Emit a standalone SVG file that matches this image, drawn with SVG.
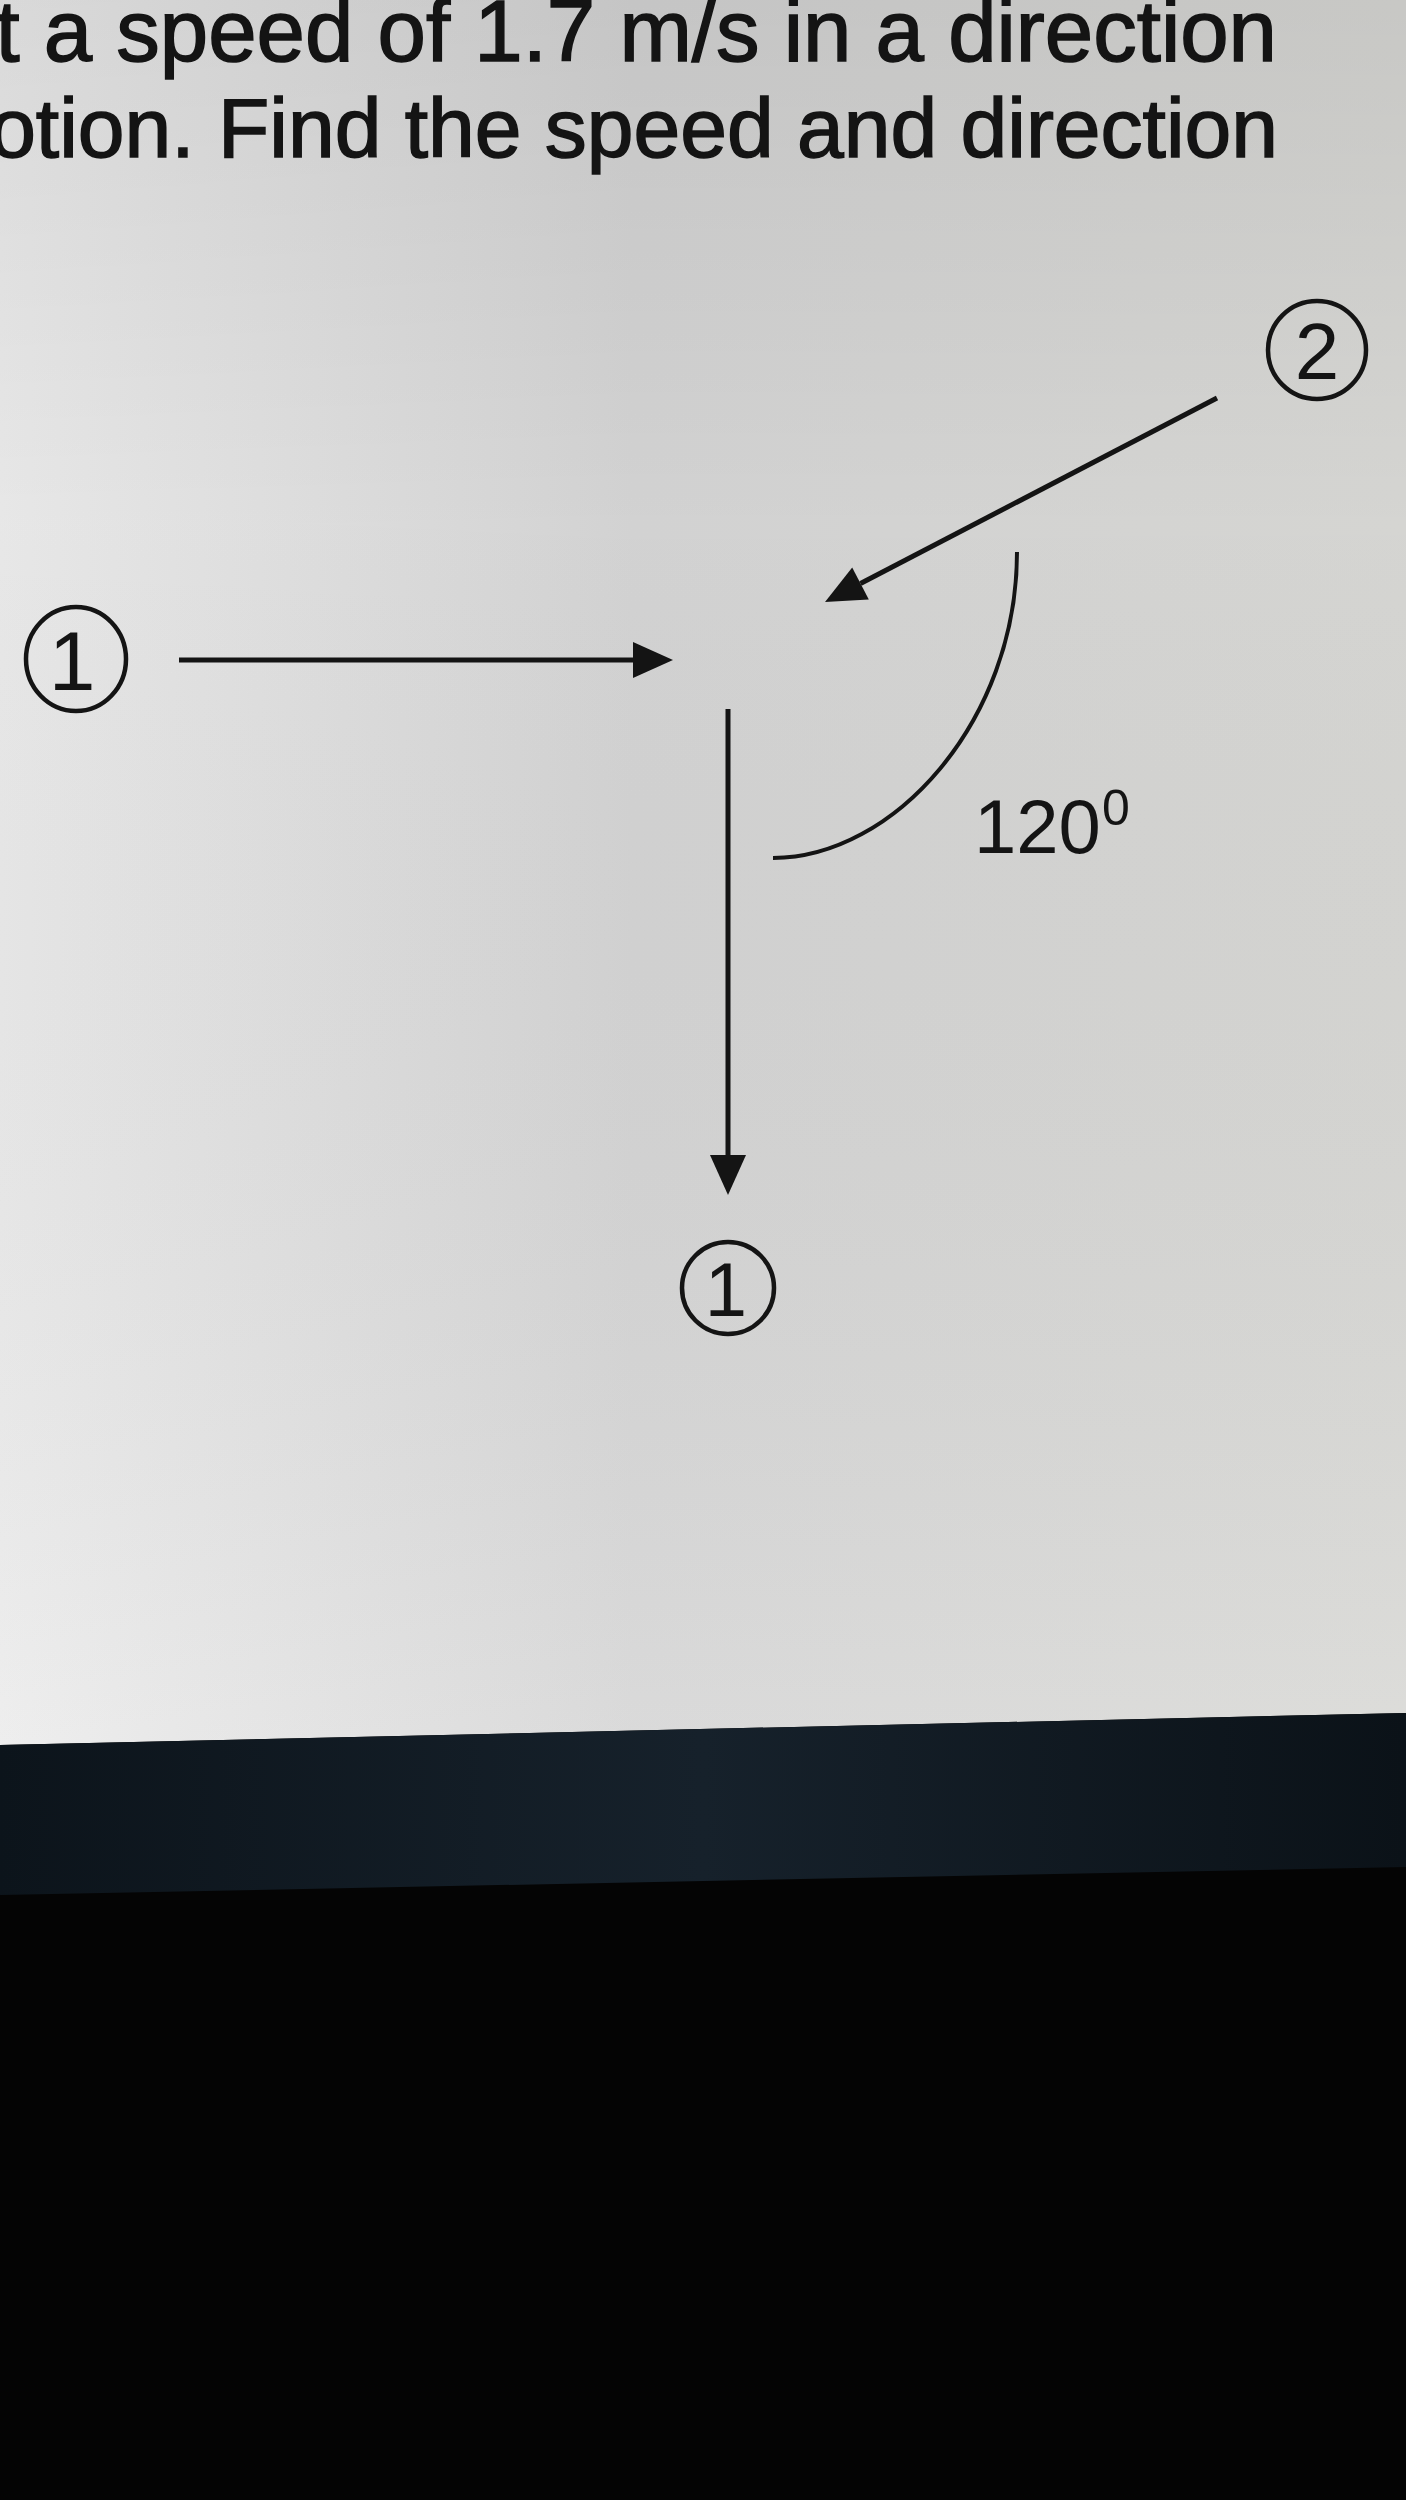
<svg xmlns="http://www.w3.org/2000/svg" width="1406" height="2500" viewBox="0 0 1406 2500">
  <style>
    .hdr { font-family: "Liberation Sans", Arial, sans-serif; font-size: 84px; fill: #141414; stroke: #141414; stroke-width: 1.5; }
    .lbl { font-family: "Liberation Sans", Arial, sans-serif; fill: #141414; }
    .num { font-family: "Liberation Sans", Arial, sans-serif; fill: #141414; text-anchor: middle; }
    .ring { fill: none; stroke: #141414; stroke-width: 4.5; }
    .arrow { stroke: #141414; stroke-width: 5; fill: none; marker-end: url(#head); }
    .arc { stroke: #141414; stroke-width: 4; fill: none; }
  </style>
  <defs>
    <linearGradient id="screenH" x1="0" y1="0" x2="1" y2="0">
      <stop offset="0" stop-color="#ececec"/>
      <stop offset="0.45" stop-color="#d6d6d6"/>
      <stop offset="1" stop-color="#d9d9d6"/>
    </linearGradient>
    <linearGradient id="screenV" x1="0" y1="0" x2="0" y2="1">
      <stop offset="0" stop-color="#000" stop-opacity="0.08"/>
      <stop offset="0.3" stop-color="#000" stop-opacity="0.02"/>
      <stop offset="1" stop-color="#fff" stop-opacity="0.1"/>
    </linearGradient>
    <linearGradient id="band" x1="0" y1="0" x2="1" y2="0">
      <stop offset="0" stop-color="#0c141b"/>
      <stop offset="0.5" stop-color="#16212b"/>
      <stop offset="1" stop-color="#0b1218"/>
    </linearGradient>
    <marker id="head" markerUnits="userSpaceOnUse" markerWidth="40" markerHeight="40" refX="0" refY="0" orient="auto" overflow="visible">
      <path d="M0,-18 L40,0 L0,18 Z" fill="#141414"/>
    </marker>
  </defs>

  <!-- screen background -->
  <rect x="0" y="0" width="1406" height="2500" fill="#040404"/>
  <polygon points="0,0 1406,0 1406,1713 0,1745" fill="url(#screenH)"/>
  <polygon points="0,0 1406,0 1406,1713 0,1745" fill="url(#screenV)"/>
  <polygon points="0,1745 1406,1713 1406,1867 0,1895" fill="url(#band)"/>

  <!-- header text -->
  <text class="hdr" x="1277" y="61" text-anchor="end" style="font-size:87px">t a speed of 1.7 m/s in a direction</text>
  <text class="hdr" x="1278" y="157" text-anchor="end">otion. Find the speed and direction</text>

  <!-- nodes -->
  <g id="label-1-left">
    <ellipse class="ring" cx="76" cy="659" rx="50" ry="52"/>
    <text class="num" x="72" y="690" font-size="84">1</text>
  </g>
  <g id="label-1-bottom">
    <circle class="ring" cx="728" cy="1288" r="46"/>
    <text class="num" x="726" y="1316" font-size="76">1</text>
  </g>
  <g id="label-2">
    <circle class="ring" cx="1317" cy="350" r="49"/>
    <text class="num" x="1317" y="379" font-size="80">2</text>
  </g>
  <g id="angle-label">
    <text class="lbl" x="974" y="853" font-size="76">120</text>
    <text class="lbl" x="1102" y="825" font-size="50">0</text>
  </g>

  <!-- connectors -->
  <g id="connectors">
    <line class="arrow" x1="179" y1="660" x2="633" y2="660"/>
    <line class="arrow" x1="728" y1="709" x2="728" y2="1155"/>
    <line class="arrow" x1="1217" y1="398" x2="860.5" y2="583.5"/>
    <path class="arc" d="M1017,552 C1017,722 893,858 773,858"/>
  </g>
</svg>
